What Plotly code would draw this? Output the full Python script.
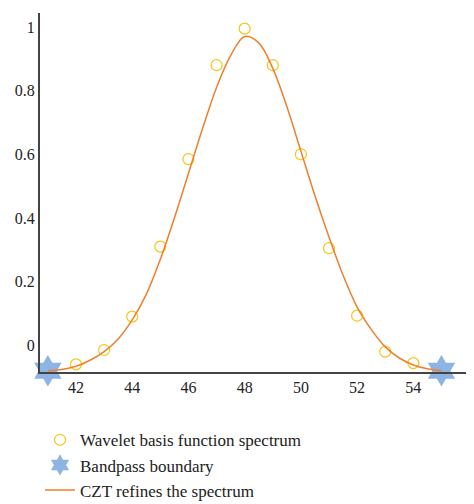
import plotly.graph_objects as go

circ_x = [42,43,44,45,46,47,48,49,50,51,52,53,54]
circ_y = [-0.06,-0.015,0.09,0.31,0.585,0.88,0.995,0.88,0.60,0.305,0.093,-0.02,-0.056]
star_x = [41,55]
star_y = [-0.08,-0.08]
curve_x = [41,41.5,42,42.5,43,43.5,44,44.5,45,45.5,46,46.5,47,47.5,48,48.5,49,49.5,50,50.5,51,51.5,52,52.5,53,53.5,54,54.5,55]
curve_y = [-0.08,-0.076,-0.066,-0.047,-0.02,0.02,0.08,0.16,0.27,0.40,0.54,0.68,0.81,0.91,0.97,0.95,0.87,0.75,0.61,0.47,0.34,0.22,0.12,0.05,-0.005,-0.04,-0.062,-0.074,-0.08]
xticks = [42,44,46,48,50,52,54]
yticks = [0,0.2,0.4,0.6,0.8,1]

fig = go.Figure()
fig.add_trace(go.Scatter(x=circ_x, y=circ_y, mode='markers', name='Wavelet basis function spectrum',
    marker=dict(symbol='circle-open', size=11, color='#F5C518', line=dict(width=1.2))))
fig.add_trace(go.Scatter(x=star_x, y=star_y, mode='markers', name='Bandpass boundary',
    marker=dict(symbol='hexagram', size=24, color='#8DB4E2'), cliponaxis=False))
fig.add_trace(go.Scatter(x=curve_x, y=curve_y, mode='lines', name='CZT refines the spectrum',
    line=dict(color='#EE7F2D', width=1.5, shape='spline')))
fig.update_layout(width=474, height=504, margin=dict(l=32, r=4, t=5, b=137),
    plot_bgcolor='white', paper_bgcolor='white',
    font=dict(family='Liberation Serif', size=16, color='#222'),
    legend=dict(x=0.0, y=-0.14, xanchor='left', yanchor='top', font=dict(size=17),
                tracegroupgap=6),
    showlegend=True)
fig.update_xaxes(range=[40.72, 56.3], tickvals=xticks, showline=True, linecolor='#444', linewidth=2,
    showgrid=False, zeroline=False, ticks='')
fig.update_yaxes(range=[-0.084, 1.044], tickvals=yticks, ticktext=['0','0.2','0.4','0.6','0.8','1'],
    showline=True, linecolor='#444', linewidth=2, showgrid=False, zeroline=False, ticks='')
fig.write_html("out.html")
